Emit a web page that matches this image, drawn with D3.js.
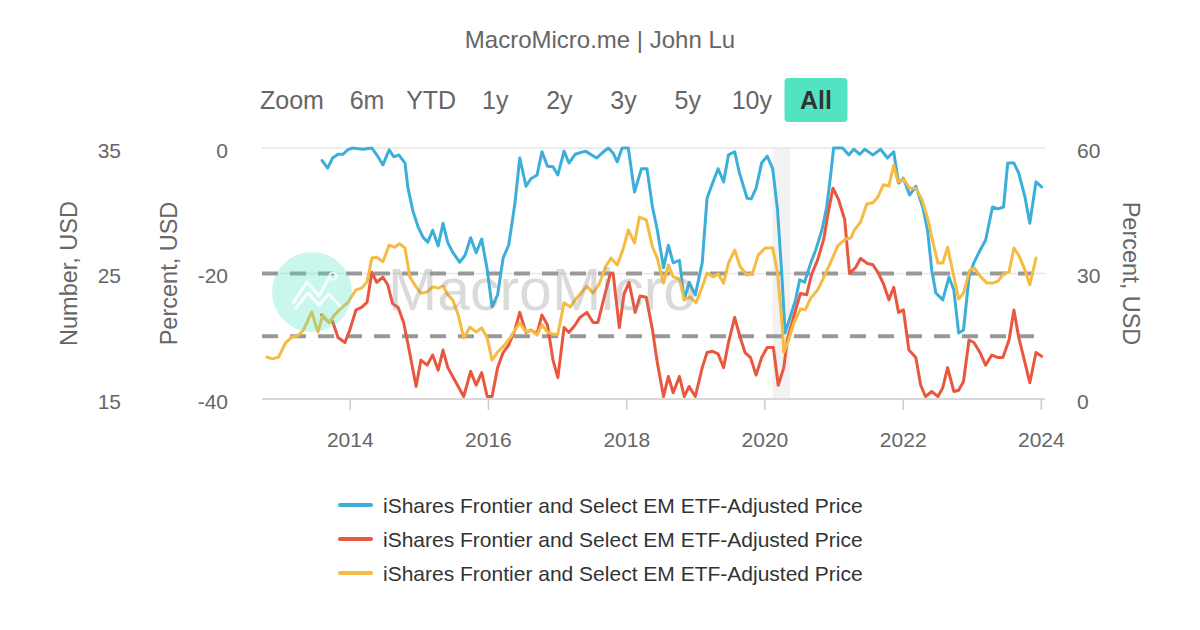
<!DOCTYPE html>
<html>
<head>
<meta charset="utf-8">
<script src="https://cdn.jsdelivr.net/npm/d3@7/dist/d3.min.js"></script>
<style>
  body { margin: 0; background: #fff; }
  svg { font-family: "Liberation Sans", Arial, Helvetica, sans-serif; }
</style>
</head>
<body>
<div id="chart"></div>
<script>
// Serie: [anno decimale, valore]
const blueSeries = [
  [2013.60,-2.0],[2013.68,-3.2],[2013.75,-1.6],[2013.83,-1.0],[2013.90,-1.0],[2013.97,-0.3],[2014.04,0],[2014.19,-0.2],
  [2014.32,0],[2014.41,-1.4],[2014.48,-2.7],[2014.57,-0.3],[2014.64,-1.4],[2014.71,-1.1],[2014.80,-2.4],[2014.84,-6.2],
  [2014.91,-9.9],[2014.99,-12.6],[2015.06,-14.2],[2015.13,-15.0],[2015.20,-13.1],[2015.28,-15.6],[2015.35,-12.0],[2015.42,-15.1],
  [2015.49,-16.6],[2015.59,-18.2],[2015.67,-17.1],[2015.75,-14.3],[2015.83,-16.7],[2015.91,-14.5],[2015.99,-19.4],[2016.06,-25.3],
  [2016.14,-23.4],[2016.22,-17.5],[2016.30,-15.5],[2016.39,-8.8],[2016.46,-1.6],[2016.55,-6.1],[2016.62,-4.9],[2016.71,-4.3],
  [2016.78,-0.6],[2016.86,-2.9],[2016.94,-3.0],[2017.01,-4.3],[2017.10,-0.5],[2017.17,-2.4],[2017.26,-1.0],[2017.41,-0.5],
  [2017.57,-1.6],[2017.65,-0.8],[2017.74,0],[2017.81,-0.8],[2017.87,-2.2],[2017.94,0],[2018.03,0],[2018.12,-7.0],
  [2018.22,-3.3],[2018.30,-3.3],[2018.38,-9.4],[2018.45,-13.1],[2018.54,-19.1],[2018.61,-15.5],[2018.68,-18.3],[2018.77,-17.9],
  [2018.84,-24.2],[2018.91,-21.4],[2019.00,-23.4],[2019.10,-18.3],[2019.17,-8.0],[2019.25,-5.6],[2019.33,-3.3],[2019.41,-5.4],
  [2019.48,-1.1],[2019.57,-0.6],[2019.64,-4.0],[2019.75,-8.0],[2019.81,-8.1],[2019.88,-6.4],[2019.96,-2.4],[2020.04,-1.3],
  [2020.12,-3.3],[2020.19,-9.9],[2020.25,-19.9],[2020.30,-29.5],[2020.39,-26.3],[2020.45,-24.2],[2020.51,-21.0],[2020.58,-21.4],
  [2020.67,-18.3],[2020.74,-16.3],[2020.83,-13.1],[2020.90,-9.4],[2020.96,-4.0],[2021.00,0],[2021.13,0],[2021.22,-1.1],
  [2021.29,-0.2],[2021.38,-1.0],[2021.45,-0.2],[2021.57,-1.1],[2021.68,-0.2],[2021.78,-1.6],[2021.87,-0.6],[2021.94,-5.6],
  [2022.01,-4.8],[2022.10,-7.5],[2022.19,-6.1],[2022.29,-9.4],[2022.36,-13.1],[2022.42,-19.4],[2022.48,-23.1],[2022.58,-24.2],
  [2022.67,-20.6],[2022.74,-22.6],[2022.81,-29.5],[2022.88,-29.0],[2022.96,-20.6],[2023.03,-18.3],[2023.12,-16.3],[2023.20,-14.7],
  [2023.30,-9.4],[2023.38,-9.7],[2023.46,-9.4],[2023.52,-2.4],[2023.61,-2.4],[2023.68,-4.0],[2023.77,-7.8],[2023.84,-12.0],
  [2023.93,-5.4],[2024.01,-6.2]
];

const redSeries = [
  [2013.59,21.7],[2013.68,21.2],[2013.75,21.2],[2013.83,19.9],[2013.93,19.5],[2014.00,20.5],[2014.09,22.1],[2014.17,22.3],
  [2014.25,22.7],[2014.32,25.1],[2014.39,24.3],[2014.48,24.7],[2014.55,24.1],[2014.62,22.6],[2014.70,22.3],[2014.78,21.1],
  [2014.86,18.9],[2014.96,16.0],[2015.03,18.1],[2015.12,17.7],[2015.20,18.5],[2015.28,17.3],[2015.35,18.9],[2015.42,17.5],
  [2015.49,16.8],[2015.57,16.0],[2015.65,15.2],[2015.75,17.2],[2015.83,16.1],[2015.91,17.1],[2015.99,15.2],[2016.06,15.2],
  [2016.14,17.5],[2016.22,18.7],[2016.30,19.3],[2016.39,20.5],[2016.46,21.9],[2016.55,20.3],[2016.62,20.5],[2016.71,20.2],
  [2016.78,21.7],[2016.86,20.9],[2016.94,18.1],[2017.01,16.7],[2017.10,20.7],[2017.17,20.3],[2017.26,20.9],[2017.33,21.5],
  [2017.43,21.9],[2017.52,21.1],[2017.59,21.1],[2017.68,23.1],[2017.77,25.0],[2017.81,25.0],[2017.90,20.7],[2017.97,23.4],
  [2018.04,24.3],[2018.13,21.9],[2018.20,23.2],[2018.29,23.1],[2018.38,20.5],[2018.45,17.9],[2018.54,15.2],[2018.61,16.8],
  [2018.68,15.5],[2018.77,16.8],[2018.84,15.2],[2018.91,16.0],[2019.00,15.2],[2019.10,17.5],[2019.17,18.7],[2019.25,18.8],
  [2019.33,18.6],[2019.41,17.5],[2019.48,19.5],[2019.57,21.5],[2019.65,19.9],[2019.72,18.7],[2019.80,18.3],[2019.88,16.9],
  [2019.96,18.3],[2020.04,19.1],[2020.13,19.1],[2020.20,16.1],[2020.28,17.5],[2020.33,19.7],[2020.42,21.5],[2020.52,23.4],
  [2020.61,23.3],[2020.68,24.9],[2020.77,26.1],[2020.86,27.8],[2020.91,29.5],[2020.99,31.8],[2021.07,30.9],[2021.16,29.3],
  [2021.23,25.0],[2021.32,25.5],[2021.39,26.2],[2021.49,25.8],[2021.57,25.7],[2021.65,25.0],[2021.72,24.2],[2021.80,22.9],
  [2021.87,23.9],[2021.94,21.9],[2022.01,22.1],[2022.09,18.9],[2022.19,18.3],[2022.26,16.1],[2022.33,15.2],[2022.42,15.6],
  [2022.51,15.2],[2022.58,15.9],[2022.65,17.5],[2022.74,15.6],[2022.81,15.7],[2022.88,16.4],[2022.96,19.7],[2023.03,19.5],
  [2023.12,18.7],[2023.20,17.7],[2023.29,18.5],[2023.38,18.3],[2023.45,18.3],[2023.54,19.7],[2023.61,22.1],[2023.68,19.9],
  [2023.77,17.9],[2023.84,16.3],[2023.93,18.7],[2024.01,18.4]
];

const yellowSeries = [
  [2012.80,10.0],[2012.88,9.6],[2012.97,10.0],[2013.07,13.4],[2013.16,14.8],[2013.25,15.1],[2013.33,16.5],[2013.45,20.8],
  [2013.54,16.0],[2013.61,20.1],[2013.70,18.2],[2013.78,20.1],[2013.88,21.8],[2013.97,23.0],[2014.09,26.1],[2014.17,26.5],
  [2014.25,28.0],[2014.32,33.7],[2014.39,33.9],[2014.48,32.8],[2014.57,36.8],[2014.65,36.3],[2014.72,37.1],[2014.80,36.1],
  [2014.87,29.2],[2014.96,26.8],[2015.03,25.3],[2015.12,25.6],[2015.20,26.8],[2015.28,26.5],[2015.35,27.0],[2015.42,24.9],
  [2015.49,23.7],[2015.57,20.1],[2015.65,14.6],[2015.74,17.2],[2015.83,16.0],[2015.91,17.0],[2015.99,14.6],[2016.06,9.3],
  [2016.14,11.2],[2016.23,12.7],[2016.32,14.6],[2016.39,16.5],[2016.46,18.2],[2016.55,16.0],[2016.62,16.5],[2016.71,15.3],
  [2016.78,17.7],[2016.86,16.0],[2016.94,15.5],[2017.01,15.5],[2017.10,23.0],[2017.19,22.0],[2017.28,24.1],[2017.36,25.6],
  [2017.43,27.0],[2017.52,25.3],[2017.61,27.5],[2017.70,31.6],[2017.78,33.7],[2017.87,32.0],[2017.96,36.1],[2018.03,40.4],
  [2018.12,37.3],[2018.19,43.5],[2018.29,42.8],[2018.38,36.3],[2018.45,33.7],[2018.54,27.7],[2018.61,32.0],[2018.68,29.2],
  [2018.77,28.7],[2018.84,23.7],[2018.93,24.4],[2019.01,23.0],[2019.10,26.8],[2019.17,30.1],[2019.26,29.2],[2019.33,29.9],
  [2019.41,27.7],[2019.48,32.5],[2019.57,35.6],[2019.65,31.6],[2019.75,29.6],[2019.83,30.1],[2019.91,34.4],[2020.01,36.1],
  [2020.12,36.1],[2020.19,30.1],[2020.26,17.2],[2020.28,11.2],[2020.35,14.1],[2020.43,18.4],[2020.52,21.5],[2020.59,21.3],
  [2020.67,24.1],[2020.77,26.1],[2020.86,29.2],[2020.96,32.8],[2021.06,36.6],[2021.17,38.2],[2021.25,38.5],[2021.30,40.4],
  [2021.39,42.3],[2021.48,46.6],[2021.57,46.9],[2021.64,48.3],[2021.72,51.2],[2021.80,50.9],[2021.87,55.9],[2021.93,51.9],
  [2022.01,52.6],[2022.10,50.4],[2022.19,50.4],[2022.28,47.6],[2022.36,43.3],[2022.43,38.0],[2022.51,32.5],[2022.58,32.5],
  [2022.65,36.3],[2022.72,30.8],[2022.81,23.9],[2022.88,25.3],[2022.97,30.8],[2023.04,31.3],[2023.13,29.2],[2023.22,27.7],
  [2023.30,27.7],[2023.38,28.2],[2023.46,29.9],[2023.54,30.4],[2023.61,36.1],[2023.68,34.4],[2023.77,30.8],[2023.84,27.3],
  [2023.93,33.7]
];

// Assi e etichette
const xTickYears = [2014, 2016, 2018, 2020, 2022, 2024];
const numberTicks = [15, 25, 35];
const percentTicks = [-40, -20, 0];
const rightTicks = [0, 30, 60];
const dashedLevels = [-20, -30];          // sull'asse Percent sinistro
const shadeBands = [[2020.12, 2020.37]];
const rangeButtons = ['6m', 'YTD', '1y', '2y', '3y', '5y', '10y', 'All'];
const legendNames = [
  'iShares Frontier and Select EM ETF-Adjusted Price',
  'iShares Frontier and Select EM ETF-Adjusted Price',
  'iShares Frontier and Select EM ETF-Adjusted Price'
];
const colors = ['#3BAFDA', '#E9573F', '#F6BB42'];

// anno decimale -> Date
function toDate(t) {
  const y = Math.floor(t);
  const a = new Date(y, 0, 1), b = new Date(y + 1, 0, 1);
  return new Date(+a + (t - y) * (b - a));
}

const W = 1200, H = 630;
const plot = { left: 262, right: 1045, top: 148, bottom: 399 };

const svg = d3.select('#chart').append('svg')
  .attr('width', W).attr('height', H);

svg.append('rect').attr('width', W).attr('height', H).attr('fill', '#fff');

// Scale
const x = d3.scaleTime()
  .domain([toDate(2012.73), toDate(2024.06)])
  .range([plot.left, plot.right]);
const yNum = d3.scaleLinear().domain([15, 35]).range([plot.bottom, plot.top]);
const yPct = d3.scaleLinear().domain([-40, 0]).range([plot.bottom, plot.top]);
const yRight = d3.scaleLinear().domain([0, 60]).range([plot.bottom, plot.top]);

// Titolo
svg.append('text')
  .attr('x', 600).attr('y', 48)
  .attr('text-anchor', 'middle')
  .attr('font-size', '24px')
  .attr('fill', '#666')
  .text('MacroMicro.me | John Lu');

// Range selector
svg.append('text')
  .attr('x', 260).attr('y', 109)
  .attr('font-size', '25px').attr('fill', '#666')
  .text('Zoom');

const btnX = d3.scalePoint().domain(rangeButtons).range([367, 816]);
svg.append('rect')
  .attr('x', btnX('All') - 31.5).attr('y', 78)
  .attr('width', 63).attr('height', 44)
  .attr('rx', 4)
  .attr('fill', '#52E3C2');
svg.selectAll('.btn')
  .data(rangeButtons)
  .enter()
  .append('text')
  .attr('x', d => btnX(d))
  .attr('y', 109)
  .attr('text-anchor', 'middle')
  .attr('font-size', '25px')
  .attr('font-weight', d => d === 'All' ? 'bold' : 'normal')
  .attr('fill', d => d === 'All' ? '#333' : '#666')
  .text(d => d);

// Banda grigia
svg.selectAll('.band')
  .data(shadeBands)
  .enter()
  .append('rect')
  .attr('x', d => x(toDate(d[0])))
  .attr('y', plot.top)
  .attr('width', d => x(toDate(d[1])) - x(toDate(d[0])))
  .attr('height', plot.bottom - plot.top)
  .attr('fill', '#f2f2f2');

// Griglia
svg.selectAll('.grid')
  .data(percentTicks)
  .enter()
  .append('line')
  .attr('x1', plot.left).attr('x2', plot.right)
  .attr('y1', d => yPct(d)).attr('y2', d => yPct(d))
  .attr('stroke', d => d === -40 ? '#d8d8d8' : '#e6e6e6')
  .attr('stroke-width', d => d === -40 ? 2 : 1.5);

// Asse X
const xAxis = svg.append('g')
  .attr('transform', `translate(0,${plot.bottom})`)
  .call(d3.axisBottom(x)
    .tickValues(xTickYears.map(y => toDate(y)))
    .tickFormat(d3.timeFormat('%Y'))
    .tickSize(11)
    .tickPadding(22));
xAxis.select('.domain').remove();
xAxis.selectAll('.tick line').attr('stroke', '#ccc').attr('stroke-width', 1.5);
xAxis.selectAll('.tick text')
  .attr('fill', '#666')
  .attr('font-size', '21px')
  .attr('font-family', '"Liberation Sans", Arial, sans-serif');

// Linee tratteggiate
svg.selectAll('.dash')
  .data(dashedLevels)
  .enter()
  .append('line')
  .attr('x1', plot.left).attr('x2', plot.right)
  .attr('y1', d => yPct(d)).attr('y2', d => yPct(d))
  .attr('stroke', '#999')
  .attr('stroke-width', 4)
  .attr('stroke-dasharray', '16,12');

// Assi Y
function styleAxis(g) {
  g.select('.domain').remove();
  g.selectAll('.tick line').remove();
  g.selectAll('.tick text')
    .attr('fill', '#666')
    .attr('font-size', '21px')
    .attr('dy', '0.45em')
    .attr('font-family', '"Liberation Sans", Arial, sans-serif');
}
const plain = d => String(d);
svg.append('g')
  .attr('transform', 'translate(121,0)')
  .call(d3.axisLeft(yNum).tickValues(numberTicks).tickFormat(plain).tickSize(0).tickPadding(0))
  .call(styleAxis);
svg.append('g')
  .attr('transform', 'translate(228,0)')
  .call(d3.axisLeft(yPct).tickValues(percentTicks).tickFormat(plain).tickSize(0).tickPadding(0))
  .call(styleAxis);
svg.append('g')
  .attr('transform', 'translate(1077,0)')
  .call(d3.axisRight(yRight).tickValues(rightTicks).tickFormat(plain).tickSize(0).tickPadding(0))
  .call(styleAxis);

// Titoli assi
const midY = (plot.top + plot.bottom) / 2;
[[69, -90, 'Number, USD'], [169, -90, 'Percent, USD'], [1131, 90, 'Percent, USD']].forEach(([ax, rot, label]) => {
  svg.append('text')
    .attr('transform', `translate(${ax},${midY}) rotate(${rot})`)
    .attr('text-anchor', 'middle')
    .attr('dominant-baseline', 'central')
    .attr('font-size', '23.5px')
    .attr('fill', '#666')
    .text(label);
});

// Linee serie
svg.append('clipPath').attr('id', 'clip')
  .append('rect')
  .attr('x', plot.left).attr('y', plot.top - 3)
  .attr('width', plot.right - plot.left).attr('height', plot.bottom - plot.top + 6);

const series = [
  { data: blueSeries, y: yPct, color: colors[0] },
  { data: redSeries, y: yNum, color: colors[1] },
  { data: yellowSeries, y: yRight, color: colors[2] }
];
const lines = svg.append('g').attr('clip-path', 'url(#clip)');
series.forEach(s => {
  const line = d3.line()
    .x(d => x(toDate(d[0])))
    .y(d => s.y(d[1]));
  lines.append('path')
    .datum(s.data)
    .attr('d', line)
    .attr('fill', 'none')
    .attr('stroke', s.color)
    .attr('stroke-width', 3)
    .attr('stroke-linejoin', 'round')
    .attr('stroke-linecap', 'round');
});

// Watermark
const wm = svg.append('g').attr('pointer-events', 'none');
wm.append('circle')
  .attr('cx', 312).attr('cy', 292).attr('r', 40)
  .attr('fill', '#50E3C2').attr('opacity', 0.3);
wm.append('path')
  .attr('d', 'M293,303 L307,282 L319,296 L329,278 M296,308 L308,293 L319,305 L329,294 L340,306')
  .attr('fill', 'none').attr('stroke', '#fff').attr('stroke-width', 3)
  .attr('stroke-linejoin', 'round').attr('stroke-linecap', 'round').attr('opacity', 0.85);
wm.append('circle')
  .attr('cx', 333).attr('cy', 276).attr('r', 3.5)
  .attr('fill', 'none').attr('stroke', '#fff').attr('stroke-width', 2).attr('opacity', 0.85);
wm.append('text')
  .attr('x', 388).attr('y', 310)
  .attr('font-size', '59px')
  .attr('fill', '#888').attr('opacity', 0.3)
  .text('MacroMicro');

// Legenda
const legY = d3.scalePoint().domain(d3.range(legendNames.length)).range([505, 573]);
const leg = svg.selectAll('.leg')
  .data(legendNames)
  .enter()
  .append('g')
  .attr('transform', (d, i) => `translate(0,${legY(i)})`);
leg.append('line')
  .attr('x1', 340).attr('x2', 371)
  .attr('stroke', (d, i) => colors[i])
  .attr('stroke-width', 4)
  .attr('stroke-linecap', 'round');
leg.append('text')
  .attr('x', 383).attr('y', 7.5)
  .attr('font-size', '21px')
  .attr('fill', '#333')
  .text(d => d);
</script>
</body>
</html>
